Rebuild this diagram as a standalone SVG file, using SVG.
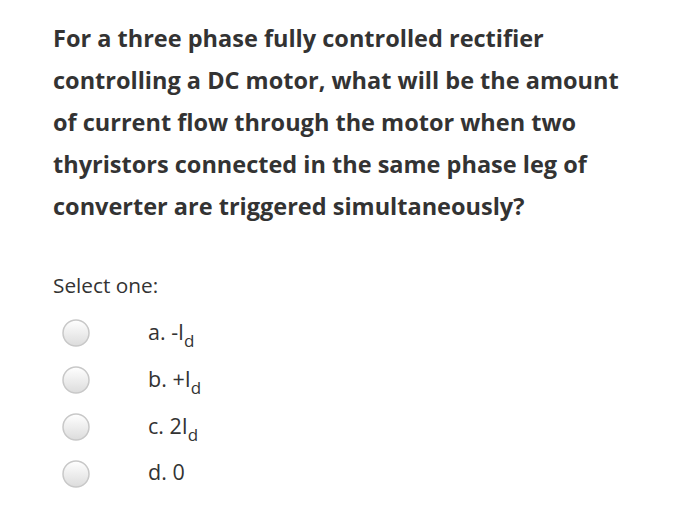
<svg xmlns="http://www.w3.org/2000/svg" width="700" height="524" viewBox="0 0 700 524">
<defs>
<linearGradient id="g" x1="0" y1="0" x2="0" y2="1"><stop offset="0" stop-color="#ffffff"/><stop offset="1" stop-color="#dcdcdc"/></linearGradient>
<style>
.q{font-family:"Open Sans",sans-serif;font-weight:bold;font-size:23.5px;fill:#333}
.o{font-family:"Open Sans",sans-serif;font-size:20.8px;fill:#333}
.p{font-family:"Open Sans",sans-serif;font-size:21.5px;fill:#333}
.r{fill:url(#g);stroke:#c8c8c8;stroke-width:1.5}
</style>
</defs>
<rect width="700" height="524" fill="#fff"/>
<text class="q" x="53" y="47">For a three phase fully controlled rectifier</text>
<text class="q" x="53" y="89">controlling a DC motor, what will be the amount</text>
<text class="q" x="53" y="131">of current flow through the motor when two</text>
<text class="q" x="53" y="173">thyristors connected in the same phase leg of</text>
<text class="q" x="53" y="215">converter are triggered simultaneously?</text>
<text class="o" x="53" y="293">Select one:</text>
<circle class="r" cx="76" cy="333" r="13"/>
<circle class="r" cx="76" cy="380" r="13"/>
<circle class="r" cx="76" cy="427" r="13"/>
<circle class="r" cx="76" cy="474" r="13"/>
<text class="p" x="148" y="340">a. -I<tspan font-size="17" dy="7">d</tspan></text>
<text class="p" x="148" y="387">b. +I<tspan font-size="17" dy="7">d</tspan></text>
<text class="p" x="148" y="434">c. 2I<tspan font-size="17" dy="7">d</tspan></text>
<text class="p" x="148" y="480">d. 0</text>
</svg>
